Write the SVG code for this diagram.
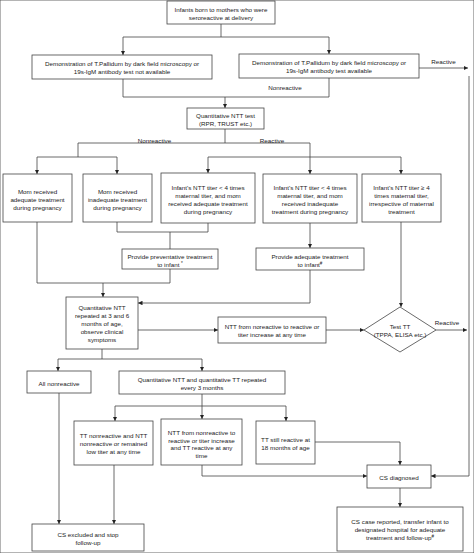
<svg xmlns="http://www.w3.org/2000/svg" width="474" height="553" viewBox="0 0 474 553">
<defs>
<style>
rect, polygon { fill: #fff; stroke: #444; stroke-width: 0.8; }
text { font-family: "Liberation Sans", Arial, sans-serif; font-size: 6.25px; fill: #222; text-anchor: middle; }
.sup { font-size: 4.5px; }
#connectors path { fill: none; stroke: #444; stroke-width: 0.8; }
.arr { marker-end: url(#ah); }
</style>
<marker id="ah" viewBox="0 0 5 5" refX="5" refY="2.5" markerWidth="4.5" markerHeight="4.5" markerUnits="userSpaceOnUse" orient="auto">
<path d="M0,0 L5,2.5 L0,5 z" fill="#222"/>
</marker>
</defs>
<rect x="0" y="0" width="474" height="553" fill="#fff" stroke="none"/>

<g id="connectors">
<path d="M221,24 V37 M123,37 H329"/>
<path class="arr" d="M123,37 V55"/>
<path class="arr" d="M329,37 V54"/>
<path d="M123,79 V97 H329 V78"/>
<path class="arr" d="M225,97 V108"/>
<path class="arr" d="M419,68 H468"/>
<path class="arr" d="M469,76 V476 H431"/>
<path d="M225,129 V143 M78,143 H310"/>
<path d="M78,143 V157 M37,157 H117"/>
<path class="arr" d="M37,157 V174"/>
<path class="arr" d="M117,157 V174"/>
<path class="arr" d="M310,143 V174"/>
<path d="M208,157 H401"/>
<path class="arr" d="M208,157 V173"/>
<path class="arr" d="M401,157 V174"/>
<path d="M117,222 V232 H208 V223 M170,232 V249"/>
<path d="M37,222 V283 H170 V269"/>
<path class="arr" d="M103,283 V297"/>
<path class="arr" d="M310,223 V248"/>
<path class="arr" d="M310,270 V303 H138"/>
<path class="arr" d="M401,222 V307"/>
<path class="arr" d="M138,330 H218"/>
<path class="arr" d="M326,330 H364"/>
<path class="arr" d="M436,330 H467"/>
<path d="M102,349 V359 M58,359 H202"/>
<path class="arr" d="M58,359 V371"/>
<path class="arr" d="M202,359 V371"/>
<path d="M202,394 V406 M115,406 H286"/>
<path class="arr" d="M115,406 V421"/>
<path class="arr" d="M202,406 V419"/>
<path class="arr" d="M286,406 V421"/>
<path class="arr" d="M59,393 V524"/>
<path class="arr" d="M114,465 V524"/>
<path class="arr" d="M315,442 H400 V465"/>
<path class="arr" d="M202,465 V476 H367"/>
<path class="arr" d="M400,488 V507"/>
<text x="285" y="90">Nonreactive</text>
<text x="443.5" y="64">Reactive</text>
<text x="154.5" y="143">Nonreactive</text>
<text x="272" y="143">Reactive</text>
<text x="447" y="325">Reactive</text>
</g>

<g id="n1"><rect x="167" y="1" width="108" height="23"/>
<text x="221" y="12.2">Infants born to mothers who were</text>
<text x="221" y="20.2">seroreactive at delivery</text></g>

<g id="n2"><rect x="32" y="55" width="180" height="24"/>
<text x="122" y="66">Demonstration of T.Pallidum by dark field microscopy or</text>
<text x="122" y="74">19s-IgM antibody test not available</text></g>

<g id="n3"><rect x="239" y="54" width="180" height="24"/>
<text x="329" y="65">Demonstration of T.Pallidum by dark field microscopy or</text>
<text x="329" y="73">19s-IgM antibody test available</text></g>

<g id="n4"><rect x="187" y="108" width="77" height="21"/>
<text x="225.5" y="118">Quantitative NTT test</text>
<text x="225.5" y="126">(RPR, TRUST etc.)</text></g>

<g id="n5"><rect x="3" y="174" width="69" height="48"/>
<text x="37.5" y="194">Mom received</text>
<text x="37.5" y="202">adequate treatment</text>
<text x="37.5" y="209.5">during pregnancy</text></g>

<g id="n6"><rect x="83" y="174" width="69" height="48"/>
<text x="117.5" y="194">Mom received</text>
<text x="117.5" y="202">inadequate treatment</text>
<text x="117.5" y="209.5">during pregnancy</text></g>

<g id="n7"><rect x="161" y="173" width="94" height="50"/>
<text x="208" y="190">Infant's NTT titer &lt; 4 times</text>
<text x="208" y="198">maternal titer, and  mom</text>
<text x="208" y="206">received adequate treatment</text>
<text x="208" y="213.5">during pregnancy</text></g>

<g id="n8"><rect x="263" y="174" width="94" height="49"/>
<text x="310" y="190">Infant's NTT titer &lt; 4 times</text>
<text x="310" y="198">maternal titer, and mom</text>
<text x="310" y="205.5">received inadequate</text>
<text x="310" y="213.5">treatment during pregnancy</text></g>

<g id="n9"><rect x="362" y="174" width="79" height="48"/>
<text x="401.5" y="190">Infant's NTT titer ≥ 4</text>
<text x="401.5" y="198">times maternal titer,</text>
<text x="401.5" y="205.5">irrespective of maternal</text>
<text x="401.5" y="213.5">treatment</text></g>

<g id="n10"><rect x="122" y="249" width="96" height="20"/>
<text x="170" y="259">Provide preventative treatment</text>
<text x="170" y="266.5">to infant <tspan class="sup" dy="-2">*</tspan></text></g>

<g id="n11"><rect x="256" y="248" width="108" height="22"/>
<text x="310" y="259">Provide adequate treatment</text>
<text x="310" y="266.5">to infant<tspan class="sup" dy="-2">#</tspan></text></g>

<g id="n12"><rect x="66" y="297" width="72" height="52"/>
<text x="102" y="310">Quantitative NTT</text>
<text x="102" y="318">repeated at 3 and 6</text>
<text x="102" y="326">months of age,</text>
<text x="102" y="334">observe clinical</text>
<text x="102" y="342">symptoms</text></g>

<g id="n13"><rect x="218" y="317" width="108" height="26"/>
<text x="272" y="329">NTT from noreactive to reactive or</text>
<text x="272" y="337">titer increase at any time</text></g>

<g id="n14"><polygon points="400,307 436,330 400,352 364,330"/>
<text x="400" y="329">Test TT</text>
<text x="400" y="336.5">(TPPA, ELISA etc.)</text></g>

<g id="n15"><rect x="27" y="371" width="64" height="22"/>
<text x="59" y="386">All nonreactive</text></g>

<g id="n16"><rect x="119" y="371" width="166" height="23"/>
<text x="202" y="382">Quantitative NTT and quantitative TT repeated</text>
<text x="202" y="390">every 3 months</text></g>

<g id="n17"><rect x="74" y="421" width="79" height="44"/>
<text x="113.5" y="438">TT nonreactive and NTT</text>
<text x="113.5" y="446">nonreactive or remained</text>
<text x="113.5" y="454">low titer at any time</text></g>

<g id="n18"><rect x="161" y="419" width="81" height="46"/>
<text x="201.5" y="435">NTT from nonreactive to</text>
<text x="201.5" y="442.5">reactive or titer increase</text>
<text x="201.5" y="450">and TT reactive at any</text>
<text x="201.5" y="457.5">time</text></g>

<g id="n19"><rect x="256" y="421" width="59" height="43"/>
<text x="285.5" y="442">TT still reactive at</text>
<text x="285.5" y="450">18 months of age</text></g>

<g id="n20"><rect x="367" y="465" width="64" height="23"/>
<text x="399" y="480">CS diagnosed</text></g>

<g id="n21"><rect x="337" y="507" width="126" height="44"/>
<text x="400" y="524">CS case reported, transfer infant to</text>
<text x="400" y="532">designated hospital for adequate</text>
<text x="400" y="540">treatment and follow-up<tspan class="sup" dy="-2">#</tspan></text></g>

<g id="n22"><rect x="32" y="524" width="112" height="27"/>
<text x="88" y="537">CS excluded and stop</text>
<text x="88" y="545">follow-up</text></g>
</svg>
